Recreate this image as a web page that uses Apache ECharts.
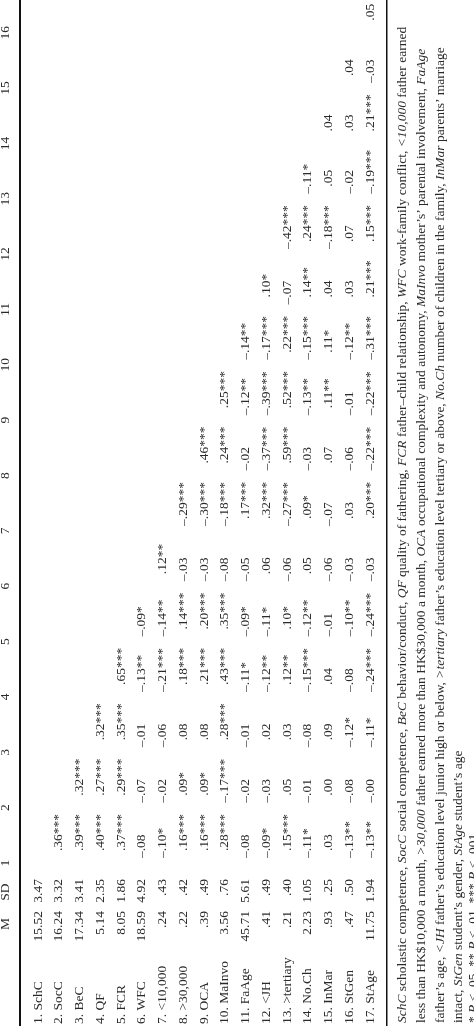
<!DOCTYPE html>
<html><head><meta charset="utf-8">
<script src="https://cdn.jsdelivr.net/npm/echarts@6/dist/echarts.min.js"></script>
<style>html,body{margin:0;padding:0;background:#fff}#c{width:474px;height:1026px}</style>
</head><body><div id="c"></div>
<script>
const rowLabels = ['1. SchC','2. SocC','3. BeC','4. QF','5. FCR','6. WFC','7. <10,000','8. >30,000','9. OCA','10. MaInvo','11. FaAge','12. <JH','13. >tertiary','14. No.Ch','15. InMar','16. StGen','17. StAge'];
const colHeaders = ['1','2','3','4','5','6','7','8','9','10','11','12','13','14','15','16'];
const means = ['15.52','16.24','17.34','5.14','8.05','18.59','.24','.22','.39','3.56','45.71','.41','.21','2.23','.93','.47','11.75'];
const sds = ['3.47','3.32','3.41','2.35','1.86','4.92','.43','.42','.49','.76','5.61','.49','.40','1.05','.25','.50','1.94'];
const corr = [
 [],
 ['.36***'],
 ['.39***','.32***'],
 ['.40***','.27***','.32***'],
 ['.37***','.29***','.35***','.65***'],
 ['–.08','–.07','–.01','–.13**','–.09*'],
 ['–.10*','–.02','–.06','–.21***','–.14**','.12**'],
 ['.16***','.09*','.08','.18***','.14***','–.03','–.29***'],
 ['.16***','.09*','.08','.21***','.20***','–.03','–.30***','.46***'],
 ['.28***','–.17***','.28***','.43***','.35***','–.08','–.18***','.24***','.25***'],
 ['–.08','–.02','–.01','–.11*','–.09*','–.05','.17***','–.02','–.12**','–.14**'],
 ['–.09*','–.03','.02','–.12**','–.11*','.06','.32***','–.37***','–.39***','–.17***','.10*'],
 ['.15***','.05','.03','.12**','.10*','–.06','–.27***','.59***','.52***','.22***','–.07','–.42***'],
 ['–.11*','–.01','–.08','–.15***','–.12**','.05','.09*','–.03','–.13**','–.15***','.14**','.24***','–.11*'],
 ['.03','.00','.09','.04','–.01','–.06','–.07','.07','.11**','.11*','.04','–.18***','.05','.04'],
 ['–.13**','–.08','–.12*','–.08','–.10**','–.03','.03','–.06','–.01','–.12**','.03','.07','–.02','.03','.04'],
 ['–.13**','–.00','–.11*','–.24***','–.24***','–.03','.20***','–.22***','–.22***','–.31***','.21***','.15***','–.19***','.21***','–.03','.05']
];
const FONT = '13.5px "Liberation Serif", "DejaVu Serif", serif';
const INK = '#2a2a2a';
const R = Math.PI/2;
function txt(x,y,text,align,dx){
  return {type:'text',x:x,y:y,rotation:R,style:{text:text,x:dx||0,y:0,align:align,verticalAlign:'middle',font:FONT,fill:INK}};
}
const cellData = [];
corr.forEach((row,r)=>row.forEach((v,c)=>cellData.push([r,c,v])));
const rowData = rowLabels.map((l,r)=>[r,0,l,means[r],sds[r]]);
const hdrData = colHeaders.map((h,c)=>[0,c,h]);
const chart = echarts.init(document.getElementById('c'));
const it = s=>'{i|'+s+'}';
const notes = [
  it('SchC')+' scholastic competence, '+it('SocC')+' social competence, '+it('BeC')+' behavior/conduct, '+it('QF')+' quality of fathering, '+it('FCR')+' father–child relationship, '+it('WFC')+' work-family conflict, '+it('<10,000')+' father earned',
  'less than HK$10,000 a month, '+it('>30,000')+' father earned more than HK$30,000 a month, '+it('OCA')+' occupational complexity and autonomy, '+it('MaInvo')+' mother\u2019s\u2019 parental involvement, '+it('FaAge'),
  'father\u2019s age, '+it('<JH')+' father\u2019s education level junior high or below, '+it('>tertiary')+' father\u2019s education level tertiary or above, '+it('No.Ch')+' number of children in the family, '+it('InMar')+' parents\u2019 marriage',
  'intact, '+it('StGen')+' student\u2019s gender, '+it('StAge')+' student\u2019s age',
  '* '+it('P')+' < .05, ** '+it('P')+' < .01, *** '+it('P')+' < .001'
];
const noteX = [402,421,440,458,473];
const graphics = [
  {type:'rect',shape:{x:19,y:0,width:2,height:1026},style:{fill:'#111'}},
  {type:'rect',shape:{x:386,y:0,width:1.5,height:1026},style:{fill:'#111'}}
].concat(notes.map((n,i)=>({type:'text',x:noteX[i],y:1023,rotation:R,
  style:{text:n,align:'left',verticalAlign:'middle',font:FONT,fill:INK,
    rich:{i:{fontStyle:'italic',fontFamily:'"Liberation Serif", serif',fontSize:13.5,fill:INK}}}})));
chart.setOption({
  animation:false,
  grid:{left:27.6,right:93.6,top:-32.7,bottom:140.3},
  xAxis:{type:'category',data:rowLabels,show:false},
  yAxis:{type:'category',data:colHeaders,show:false},
  graphic:graphics,
  series:[
    {type:'custom',data:cellData,clip:false,renderItem:(p,api)=>{
      const pt=api.coord([api.value(0),api.value(1)]);
      const v=cellData[p.dataIndex][2];
      return txt(pt[0],pt[1],v,'left',v[0]==='–'?0:7);
    }},
    {type:'custom',data:rowData,clip:false,renderItem:(p,api)=>{
      const pt=api.coord([api.value(0),0]);
      const d=rowData[p.dataIndex];
      return {type:'group',children:[
        txt(pt[0],pt[1]+166,d[2],'left'),
        txt(pt[0],pt[1]+53,d[3],'right'),
        txt(pt[0],pt[1]+21,d[4],'right')
      ]};
    }},
    {type:'custom',data:hdrData,clip:false,renderItem:(p,api)=>{
      const pt=api.coord([0,api.value(1)]);
      const h=hdrData[p.dataIndex][2];
      const g=[txt(pt[0]-33,pt[1]+5,h,'center')];
      if(p.dataIndex===0){g.push(txt(pt[0]-33,pt[1]+66,'M','center'));g.push(txt(pt[0]-33,pt[1]+34,'SD','center'));}
      return {type:'group',children:g};
    }}
  ]
});
</script></body></html>
